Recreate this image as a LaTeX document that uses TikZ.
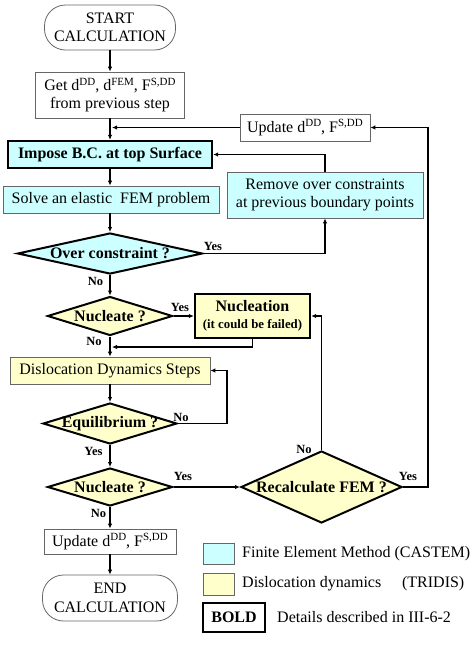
\documentclass[tikz,border=0pt]{standalone}
\usepackage{fontspec}
\setmainfont{Liberation Serif}
\usetikzlibrary{shapes.geometric,arrows.meta}
\definecolor{femcyan}{HTML}{CCFFFF}
\definecolor{ddyellow}{HTML}{FFFFCC}
\newcommand{\dtxt}[1]{\makebox[0pt]{#1}}
\newcommand{\up}[1]{\raisebox{0.7ex}{\fontsize{11}{11}\selectfont #1}}
\tikzset{
  base/.style={draw=black!60, line width=0.8pt, inner sep=0pt, align=center,
    font=\fontsize{16}{18.5}\selectfont},
  term/.style={base, rounded corners=21pt},
  fem/.style={base, fill=femcyan},
  dd/.style={base, fill=ddyellow},
  heavy/.style={draw=black, line width=2.4pt},
  test/.style={diamond, draw, line width=2pt, inner sep=0pt,
    font=\fontsize{16}{18}\selectfont\bfseries},
  lab/.style={inner sep=0pt, font=\fontsize{12.5}{14}\selectfont\bfseries},
  note/.style={inner sep=0pt, anchor=west, font=\fontsize{16}{18}\selectfont},
  arr/.style={-{Latex[length=5pt,width=4.5pt]}, line width=1.3pt}
}
\begin{document}
\begin{tikzpicture}[x=1pt, y=-1pt]
  \useasboundingbox (0,0) rectangle (474,654);
  % main column
  \node[term, minimum width=131pt, minimum height=45pt] (start) at (110,27.5) {START\\CALCULATION};
  \node[base, minimum width=149pt, minimum height=46pt] (get) at (110,95)
    {Get d\up{DD}, d\up{FEM}, F\up{S,DD}\\from previous step};
  \node[fem, heavy, minimum width=204pt, minimum height=27pt] (impose) at (110,154.5)
    {\bfseries Impose B.C. at top Surface};
  \node[fem, minimum width=216pt, minimum height=27pt] (solve) at (111,199.5)
    {Solve an elastic\ \ FEM problem};
  \node[test, fill=femcyan, minimum width=185pt, minimum height=41pt] (over) at (110,253.5)
    {\dtxt{Over constraint ?}};
  \node[test, fill=ddyellow, minimum width=125pt, minimum height=39pt] (nuc1) at (110,316)
    {\dtxt{Nucleate ?}};
  \node[dd, minimum width=200pt, minimum height=27pt] (dds) at (110,370.5)
    {Dislocation Dynamics Steps};
  \node[test, fill=ddyellow, minimum width=134pt, minimum height=41pt] (equil) at (110,423.5)
    {\dtxt{Equilibrium ?}};
  \node[test, fill=ddyellow, minimum width=125pt, minimum height=38pt] (nuc2) at (110,487)
    {\dtxt{Nucleate ?}};
  \node[base, minimum width=132pt, minimum height=25pt] (upd2) at (110,541.5)
    {Update d\up{DD}, F\up{S,DD}};
  \node[term, minimum width=135pt, minimum height=46pt] (endn) at (110,598) {END\\CALCULATION};
  % right side
  \node[base, minimum width=130pt, minimum height=27pt] (upd1) at (305,127.5)
    {Update d\up{DD}, F\up{S,DD}};
  \node[fem, minimum width=196pt, minimum height=46pt] (remove) at (325,195)
    {Remove over constraints\\at previous boundary points};
  \node[dd, heavy, minimum width=115pt, minimum height=44pt] (nucl) at (252.5,316)
    {\bfseries Nucleation\\[-1pt]{\fontsize{12.8}{14}\selectfont\bfseries (it could be failed)}};
  \node[test, fill=ddyellow, minimum width=161pt, minimum height=72pt] (recalc) at (321.5,487)
    {\dtxt{Recalculate FEM ?}};
  % corners
  \coordinate (join) at (112,347);
  \coordinate (eqr) at (227,423.5);
  \coordinate (rr) at (428,487);
  % connectors
  \draw[arr] (start) -- (get);
  \draw[arr] (get) -- (impose);
  \draw[arr] (upd1) -- ([xshift=2pt]upd1 -| get);
  \draw[arr] (remove) |- (impose);
  \draw[arr] (impose) -- (solve.north -| impose);
  \draw[arr] (solve.south -| over) -- (over);
  \draw[arr] (over) -| (remove);
  \draw[arr] (over) -- (nuc1);
  \draw[arr] (nuc1) -- (nucl);
  \draw[arr] (nucl) |- (join);
  \draw[arr] (nuc1) -- (dds);
  \draw[arr] (dds) -- (equil);
  \draw[arr] (equil) -- (eqr) |- (dds);
  \draw[arr] (equil) -- (nuc2);
  \draw[arr] (nuc2) -- (recalc);
  \draw[arr] (recalc) |- (nucl);
  \draw[arr] (recalc) -- (rr) |- (upd1);
  \draw[arr] (nuc2) -- (upd2);
  \draw[arr] (upd2) -- (endn);
  % yes / no
  \node[lab] (overyes) at (213,246) {Yes};
  \node[lab] (overno) at (95.5,281) {No};
  \node[lab] (nuc1yes) at (180,307.5) {Yes};
  \node[lab] (nuc1no) at (94,341.5) {No};
  \node[lab] (equilno) at (181,417) {No};
  \node[lab] (equilyes) at (93.5,451.5) {Yes};
  \node[lab] (nuc2yes) at (183,476) {Yes};
  \node[lab] (nuc2no) at (98.5,513) {No};
  \node[lab] (recalcno) at (304,449) {No};
  \node[lab] (recalcyes) at (408,476.5) {Yes};
  % legend
  \node[fem, minimum width=31pt, minimum height=21pt] (keyfem) at (218.5,553.5) {};
  \node[note] (keyfemtxt) at (242,553.5) {Finite Element Method (CASTEM)};
  \node[dd, minimum width=31pt, minimum height=22pt] (keydd) at (218.5,584) {};
  \node[note] (keyddtxt) at (242,584) {Dislocation dynamics\hspace{1.3em}(TRIDIS)};
  \node[base, heavy, minimum width=62pt, minimum height=29pt] (keybold) at (234,617.5) {\bfseries BOLD};
  \node[note] (keyboldtxt) at (277,617.5) {Details described in III-6-2};
\end{tikzpicture}
\end{document}
